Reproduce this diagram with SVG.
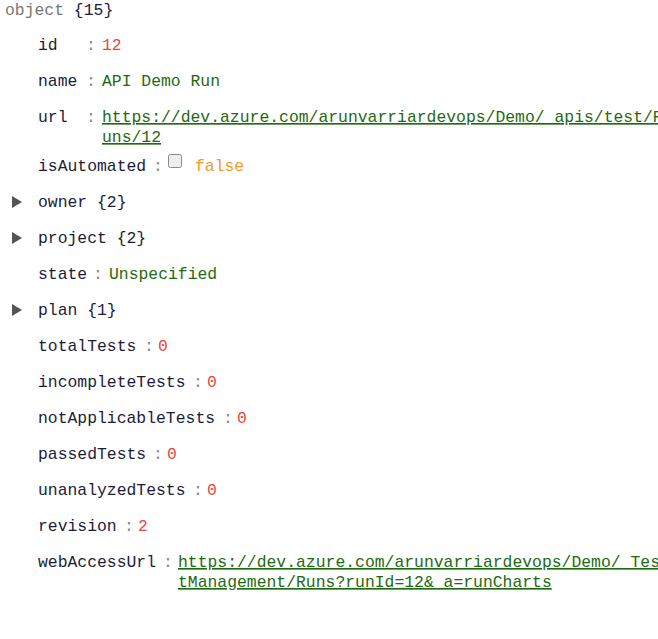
<svg xmlns="http://www.w3.org/2000/svg" width="658" height="639" viewBox="0 0 658 639">
<style>
text{font-family:"Liberation Mono","DejaVu Sans Mono",monospace;font-size:16.4px}
.k{fill:#1c1c3a}.c{fill:#888}.n{fill:#e8473c}.s{fill:#1e6a10}.u{fill:#1e6a10;text-decoration:underline}.b{fill:#f39a1f}.g{fill:#777}.t{fill:#555}
</style>
<rect width="658" height="639" fill="#fff"/>
<g id="root"><text x="5" y="15"><tspan class="g">object</tspan><tspan class="k"> {15}</tspan></text></g>
<g id="id"><text x="38" y="50" class="k">id</text><text x="86" y="50" class="c">:</text><text x="102" y="50" class="n">12</text></g>
<g id="name"><text x="38" y="86" class="k">name</text><text x="86" y="86" class="c">:</text><text x="102" y="86" class="s">API Demo Run</text></g>
<g id="url"><text x="38" y="122" class="k">url</text><text x="86" y="122" class="c">:</text><text x="102" y="122" class="u">https://dev.azure.com/arunvarriardevops/Demo/_apis/test/R</text><text x="102" y="142" class="u">uns/12</text></g>
<g id="isAutomated"><text x="38" y="171" class="k">isAutomated</text><text x="153" y="171" class="c">:</text><rect x="168.5" y="154.5" width="13" height="13" rx="2" fill="#eee" stroke="#888"/><text x="195" y="171" class="b">false</text></g>
<g id="owner"><path d="M12 196 L22 202 L12 208Z" class="t"/><text x="38" y="207" class="k">owner {2}</text></g>
<g id="project"><path d="M12 232 L22 238 L12 244Z" class="t"/><text x="38" y="243" class="k">project {2}</text></g>
<g id="state"><text x="38" y="279" class="k">state</text><text x="93" y="279" class="c">:</text><text x="109" y="279" class="s">Unspecified</text></g>
<g id="plan"><path d="M12 304 L22 310 L12 316Z" class="t"/><text x="38" y="315" class="k">plan  {1}</text></g>
<g id="totalTests"><text x="38" y="351" class="k">totalTests</text><text x="144" y="351" class="c">:</text><text x="158" y="351" class="n">0</text></g>
<g id="incompleteTests"><text x="38" y="387" class="k">incompleteTests</text><text x="193" y="387" class="c">:</text><text x="207" y="387" class="n">0</text></g>
<g id="notApplicableTests"><text x="38" y="423" class="k">notApplicableTests</text><text x="223" y="423" class="c">:</text><text x="237" y="423" class="n">0</text></g>
<g id="passedTests"><text x="38" y="459" class="k">passedTests</text><text x="153" y="459" class="c">:</text><text x="167" y="459" class="n">0</text></g>
<g id="unanalyzedTests"><text x="38" y="495" class="k">unanalyzedTests</text><text x="193" y="495" class="c">:</text><text x="207" y="495" class="n">0</text></g>
<g id="revision"><text x="38" y="531" class="k">revision</text><text x="124" y="531" class="c">:</text><text x="138" y="531" class="n">2</text></g>
<g id="webAccessUrl"><text x="38" y="567" class="k">webAccessUrl</text><text x="163" y="567" class="c">:</text><text x="178" y="567" class="u">https://dev.azure.com/arunvarriardevops/Demo/_Tes</text><text x="178" y="587" class="u">tManagement/Runs?runId=12&amp;_a=runCharts</text></g>
</svg>
